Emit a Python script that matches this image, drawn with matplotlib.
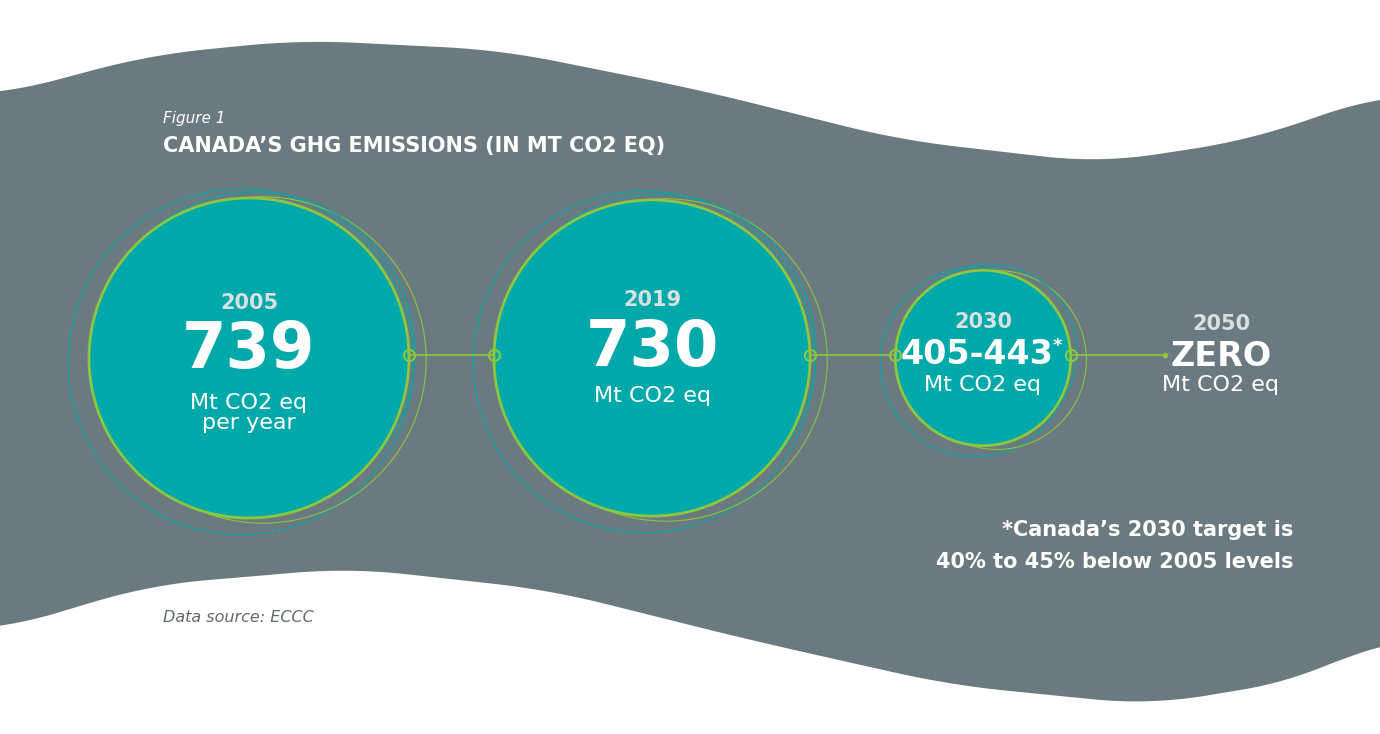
import numpy as np
from matplotlib import pyplot as plt
from matplotlib.patches import Circle, Polygon

years = ["2005", "2019", "2030", "2050"]
values = [739, 730, 405, 0]
big_labels = ["739", "730", "405-443", "ZERO"]
sub_labels = ["Mt CO2 eq\nper year", "Mt CO2 eq", "Mt CO2 eq", "Mt CO2 eq"]
centers_x = [249, 652, 983, 1221]

GREY = "#6b7a80"
TEAL = "#00a9a9"
LIME = "#8dc63f"

fig = plt.figure(figsize=(13.8, 7.34), dpi=100)
ax = fig.add_axes([0, 0, 1, 1])
ax.set_xlim(0, 1380)
ax.set_ylim(734, 0)
ax.axis("off")

# wavy grey band
xs = np.linspace(0, 1380, 300)
top = np.interp(xs, [0, 150, 300, 500, 700, 900, 1100, 1250, 1380],
                [95, 55, 40, 50, 90, 140, 163, 140, 95])
bot = np.interp(xs, [0, 150, 350, 550, 750, 950, 1150, 1300, 1380],
                [630, 585, 568, 590, 640, 685, 705, 680, 640])
k = np.ones(25) / 25
top = np.convolve(np.pad(top, 12, mode="edge"), k, mode="valid")
bot = np.convolve(np.pad(bot, 12, mode="edge"), k, mode="valid")
poly = np.vstack([np.column_stack([xs, top]), np.column_stack([xs[::-1], bot[::-1]])])
ax.add_patch(Polygon(poly, closed=True, color=GREY, lw=0))

ax.text(163, 118, "Figure 1", color="white", fontsize=11, style="italic", va="center")
ax.text(163, 146, "CANADA’S GHG EMISSIONS (IN MT CO2 EQ)", color="white",
        fontsize=15, fontweight="bold", va="center")
ax.text(163, 617, "Data source: ECCC", color="#5f6b70", fontsize=11.5, style="italic", va="center")
ax.text(1293, 530, "*Canada’s 2030 target is", color="white", fontsize=15,
        fontweight="bold", ha="right", va="center")
ax.text(1293, 562, "40% to 45% below 2005 levels", color="white", fontsize=15,
        fontweight="bold", ha="right", va="center")

scale = 160 / 739
cy = 358
radii = [v * scale for v in values]
for i, (x, r) in enumerate(zip(centers_x, radii)):
    if r <= 0:
        continue
    ax.add_patch(Circle((x, cy), r, facecolor=TEAL, edgecolor=LIME, lw=2, zorder=3))
    ax.add_patch(Circle((x - 8, cy + 4), r * 1.08, fill=False, edgecolor=TEAL, lw=0.8, zorder=2))
    ax.add_patch(Circle((x + 14, cy + 2), r * 1.02, fill=False, edgecolor=LIME, lw=0.8, zorder=2))
    ax.add_patch(Circle((x + 6, cy - 6), r * 1.0, fill=False, edgecolor=TEAL, lw=0.8, zorder=2))

# connectors
for i in range(3):
    x0 = centers_x[i] + radii[i]
    x1 = centers_x[i + 1] - radii[i + 1] if radii[i + 1] > 0 else 1165
    ax.plot([x0, x1], [355, 355], color=LIME, lw=1.2, zorder=4)
    ax.plot([x0], [355], "o", ms=8, mfc="none", mec=LIME, mew=1.5, zorder=5)
    if radii[i + 1] > 0:
        ax.plot([x1], [355], "o", ms=8, mfc="none", mec=LIME, mew=1.5, zorder=5)
    else:
        ax.plot([x1], [355], "o", ms=3, color=LIME, zorder=5)

big_sizes = [46, 46, 24, 24]
year_y = [303, 300, 322, 324]
big_y = [350, 348, 355, 356]
sub_y = [413, 396, 385, 385]
for i, x in enumerate(centers_x):
    ax.text(x, year_y[i], years[i], color="#d9e0e2", fontsize=15, fontweight="bold",
            ha="center", va="center", zorder=6)
    ax.text(x if i != 2 else x - 6, big_y[i], big_labels[i], color="white", fontsize=big_sizes[i],
            fontweight="bold", ha="center", va="center", zorder=6)
    if i == 2:
        ax.text(x + 74, 346, "*", color="white", fontsize=13, fontweight="bold",
                ha="center", va="center", zorder=6)
    ax.text(x, sub_y[i], sub_labels[i], color="white", fontsize=16, ha="center",
            va="center", linespacing=1.05, zorder=6)

fig.savefig("out.png", dpi=100)
